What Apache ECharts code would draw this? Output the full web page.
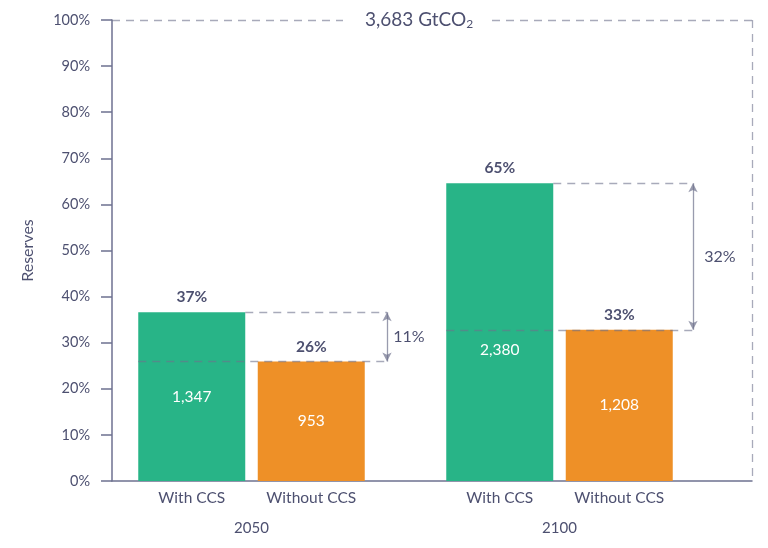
<!DOCTYPE html>
<html>
<head>
<meta charset="utf-8">
<script src="https://cdn.jsdelivr.net/npm/echarts@6/dist/echarts.min.js"></script>
<style>
  html, body { margin: 0; padding: 0; background: #fff; }
  #main { width: 768px; height: 548px; }
</style>
</head>
<body>
<div id="main"></div>
<script>
// data
var groups = ['2050', '2100'];
var scenarios = ['With CCS', 'Without CCS'];
var pct2050 = [36.6, 25.9];     // share of reserves, %
var pct2100 = [64.6, 32.8];
var gt2050 = [1347, 953];       // GtCO2
var gt2100 = [2380, 1208];
var totalGt = 3683;
var yTicks = [0, 10, 20, 30, 40, 50, 60, 70, 80, 90, 100];

var barColors = ['#28b487', '#ee9027'];
var textColor = '#4d5070';
var axisColor = '#6e7190';
var dashColor = 'rgba(110,113,140,0.6)';
var fontFamily = 'Lato, "Open Sans", sans-serif';

// layout (pixels)
var plotL = 112, plotR = 752, plotT = 20, plotB = 481;
var catW = 119.5, barW = 107;
var groupLeft = [132, 440];
function vx(px) { return (px - plotL) / (plotR - plotL) * 100; }
function fmt(n) { return n.toLocaleString('en-US'); }

var pcts = [pct2050, pct2100];
var gts = [gt2050, gt2100];

var grids = [{ left: plotL, right: 768 - plotR, top: plotT, bottom: 548 - plotB, outerBoundsMode: 'none' }];
groupLeft.forEach(function (l) {
  grids.push({ left: l, width: catW * 2, top: plotT, bottom: 548 - plotB, outerBoundsMode: 'none' });
});

var xAxes = [{
  gridIndex: 0, type: 'value', min: 0, max: 100,
  axisLine: { show: true, lineStyle: { color: axisColor, width: 1.5 } },
  axisTick: { show: false }, axisLabel: { show: false }, splitLine: { show: false }
}];
var yAxes = [{
  gridIndex: 0, type: 'value', min: 0, max: 100, interval: 10,
  name: 'Reserves', nameLocation: 'middle', nameGap: 76,
  nameTextStyle: { color: textColor, fontSize: 16, fontFamily: fontFamily },
  axisLine: { show: true, lineStyle: { color: axisColor, width: 1.5 } },
  axisTick: { show: true, length: 11, lineStyle: { color: axisColor, width: 1.5 } },
  axisLabel: { color: textColor, fontSize: 14.5, margin: 22, fontFamily: fontFamily,
    formatter: function (v) { return yTicks.indexOf(v) >= 0 ? v + '%' : ''; } },
  splitLine: { show: false }
}];

var series = [];
groups.forEach(function (g, gi) {
  xAxes.push({
    gridIndex: gi + 1, type: 'category', data: scenarios,
    name: g, nameLocation: 'middle', nameGap: 40,
    nameTextStyle: { color: textColor, fontSize: 15, fontFamily: fontFamily },
    axisLine: { show: false }, axisTick: { show: false },
    axisLabel: { color: textColor, fontSize: 15.5, margin: 9, fontFamily: fontFamily,
      interval: 0, hideOverlap: false }
  });
  yAxes.push({ gridIndex: gi + 1, type: 'value', min: 0, max: 100, show: false });

  series.push({
    type: 'bar', xAxisIndex: gi + 1, yAxisIndex: gi + 1, barWidth: barW,
    data: pcts[gi].map(function (v, i) {
      return { value: v, itemStyle: { color: barColors[i] } };
    }),
    label: {
      show: true, position: 'top', distance: 7, color: textColor, fontSize: 15.5,
      fontWeight: 'bold', fontFamily: fontFamily,
      formatter: function (p) { return Math.round(p.value) + '%'; }
    },
    emphasis: { disabled: true }, silent: true, animation: false
  });
  series.push({
    type: 'bar', xAxisIndex: gi + 1, yAxisIndex: gi + 1, barWidth: barW, barGap: '-100%',
    data: pcts[gi].map(function (v, i) {
      var item = { value: v, itemStyle: { color: 'transparent' } };
      if (gi === 1 && i === 0) item.label = { offset: [0, 18] };
      return item;
    }),
    label: {
      show: true, position: 'inside', color: '#fff', fontSize: 15.5, fontFamily: fontFamily,
      formatter: function (p) { return fmt(gts[gi][p.dataIndex]); }
    },
    emphasis: { disabled: true }, silent: true, animation: false
  });
});

// annotation lines and labels on the outer grid
function seg(x1, y1, x2, y2) { return [{ coord: [vx(x1), y1] }, { coord: [vx(x2), y2] }]; }
function arrow(x, y1, y2) {
  return [
    { coord: [vx(x), y1], symbol: 'arrow', symbolSize: [7, 9], lineStyle: { type: 'solid', color: 'rgba(110,113,140,0.7)' } },
    { coord: [vx(x), y2], symbol: 'arrow', symbolSize: [7, 9] }
  ];
}
function pt(x, y, text) {
  return { coord: [vx(x), y], label: { formatter: text } };
}

var green1L = groupLeft[0] + (catW - barW) / 2, green1R = green1L + barW;
var green2L = groupLeft[1] + (catW - barW) / 2, green2R = green2L + barW;
var arrow1X = 387, arrow2X = 693;

series.push({
  type: 'line', xAxisIndex: 0, yAxisIndex: 0, data: [], silent: true, animation: false,
  markLine: {
    silent: true, animation: false, z: 10, symbol: ['none', 'none'],
    label: { show: false },
    lineStyle: { color: dashColor, type: [8, 6], width: 1.3 },
    emphasis: { disabled: true },
    data: [
      seg(plotL, 100, 343, 100),
      seg(492, 100, plotR, 100),
      seg(plotR, 100, plotR, 0),
      seg(green1R, pct2050[0], arrow1X, pct2050[0]),
      seg(green1L, pct2050[1], arrow1X, pct2050[1]),
      arrow(arrow1X, pct2050[0], pct2050[1]),
      seg(green2R, pct2100[0], arrow2X, pct2100[0]),
      seg(green2L, pct2100[1], arrow2X, pct2100[1]),
      arrow(arrow2X, pct2100[0], pct2100[1])
    ]
  },
  markPoint: {
    silent: true, animation: false, z: 10,
    symbol: 'circle', symbolSize: 1, itemStyle: { color: 'transparent' },
    label: { show: true, position: 'inside', color: textColor, fontSize: 16, fontFamily: fontFamily },
    data: [
      pt(409, (pct2050[0] + pct2050[1]) / 2, Math.round(pct2050[0] - pct2050[1]) + '%'),
      pt(720, (pct2100[0] + pct2100[1]) / 2, Math.round(pct2100[0] - pct2100[1]) + '%'),
      { coord: [vx(419), 100], label: {
        formatter: '{a|' + fmt(totalGt) + ' GtCO}{s|2}',
        rich: {
          a: { fontSize: 19, color: textColor, fontFamily: fontFamily },
          s: { fontSize: 12, color: textColor, fontFamily: fontFamily, padding: [9, 0, 0, 0] }
        }
      } }
    ]
  }
});

var chart = echarts.init(document.getElementById('main'));
chart.setOption({
  backgroundColor: '#fff',
  animation: false,
  grid: grids,
  xAxis: xAxes,
  yAxis: yAxes,
  series: series
});
</script>
</body>
</html>
